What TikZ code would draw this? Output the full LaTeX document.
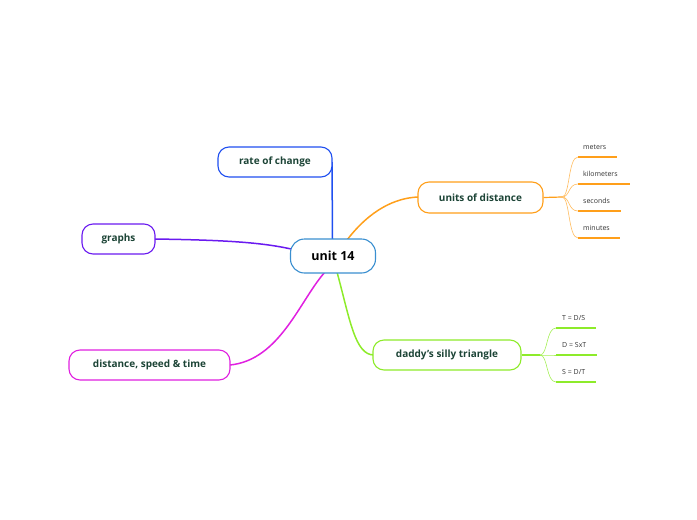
\documentclass[tikz,border=0pt]{standalone}
\usepackage{fontspec}
\setmainfont{Open Sans}
\begin{document}
\begin{tikzpicture}[x=1pt,y=-1pt,
  topic/.style={draw=#1,line width=1.1pt,rounded corners=11pt,fill=white,font=\bfseries\fontsize{10}{11}\selectfont,text=tdark,inner sep=0pt},
  leaf/.style={font=\fontsize{7}{8}\selectfont,text=black!80,anchor=west,inner sep=0pt},
  ul/.style={draw=#1,line width=1.6pt},
  br/.style={draw=#1,line width=1.5pt}]
\useasboundingbox (0,0) rectangle (697,520);
\definecolor{tdark}{HTML}{1C4436}
\definecolor{cblue}{HTML}{1F4FF0}
\definecolor{cpurple}{HTML}{6A1AF0}
\definecolor{cmag}{HTML}{E020E0}
\definecolor{corange}{HTML}{FF9F1A}
\definecolor{cgreen}{HTML}{8DEB2A}
\definecolor{ccenter}{HTML}{3A8FD0}
% branches
\draw[br=cblue] (332,162) -- (332.5,239);
\draw[br=cpurple] (155,239) .. controls (220,240) and (260,242) .. (291,249);
\draw[br=cmag] (230,365) .. controls (280,360) and (300,300) .. (325,272);
\draw[br=corange] (347,240) .. controls (370,210) and (395,198) .. (418,197);
\draw[br=cgreen] (337,272) .. controls (350,320) and (355,355) .. (374,355);
\node[topic=ccenter,minimum width=85pt,minimum height=34pt,rounded corners=14pt,text=black,font=\bfseries\fontsize{12.5}{13}\selectfont] (c) at (333,256) {unit 14};
\node[topic=cblue,minimum width=114pt,minimum height=30pt] (r) at (275,162) {rate of change};
\node[topic=cpurple,minimum width=73pt,minimum height=30pt] (g) at (118.5,239) {graphs};
\node[topic=cmag,minimum width=161pt,minimum height=30pt] (d) at (149.5,365) {distance, speed \& time};
\node[topic=corange,minimum width=125pt,minimum height=31pt] (u) at (480.5,197.5) {units of distance};
\node[topic=cgreen,minimum width=148pt,minimum height=30pt] (t) at (447,355) {daddy{\char"27}s silly triangle};
% units leaves
\coordinate (ub) at (562,197);
\draw[corange,line width=1.2pt] (u.east) -- (ub);
\foreach \y/\e/\txt/\n in {157/617/meters/m1,184/630/kilometers/m2,211/621/seconds/m3,238/620/minutes/m4}{
  \node[leaf] (\n) at (583,\y-10) {\txt};
  \draw[ul=corange] (578,\y) -- (\e,\y);
  \draw[corange!70,line width=0.6pt] (ub) .. controls (570,197) and (568,\y) .. (578,\y);
}
% triangle leaves
\coordinate (tb) at (540,355);
\draw[cgreen,line width=1.2pt] (t.east) -- (tb);
\foreach \y/\e/\txt/\n in {328/596/{T = D/S}/s1,355/597/{D = SxT}/s2,382/596/{S = D/T}/s3}{
  \node[leaf] (\n) at (562,\y-10) {\txt};
  \draw[ul=cgreen] (556,\y) -- (\e,\y);
  \draw[cgreen!80,line width=0.6pt] (tb) .. controls (548,355) and (546,\y) .. (556,\y);
}
\end{tikzpicture}
\end{document}
